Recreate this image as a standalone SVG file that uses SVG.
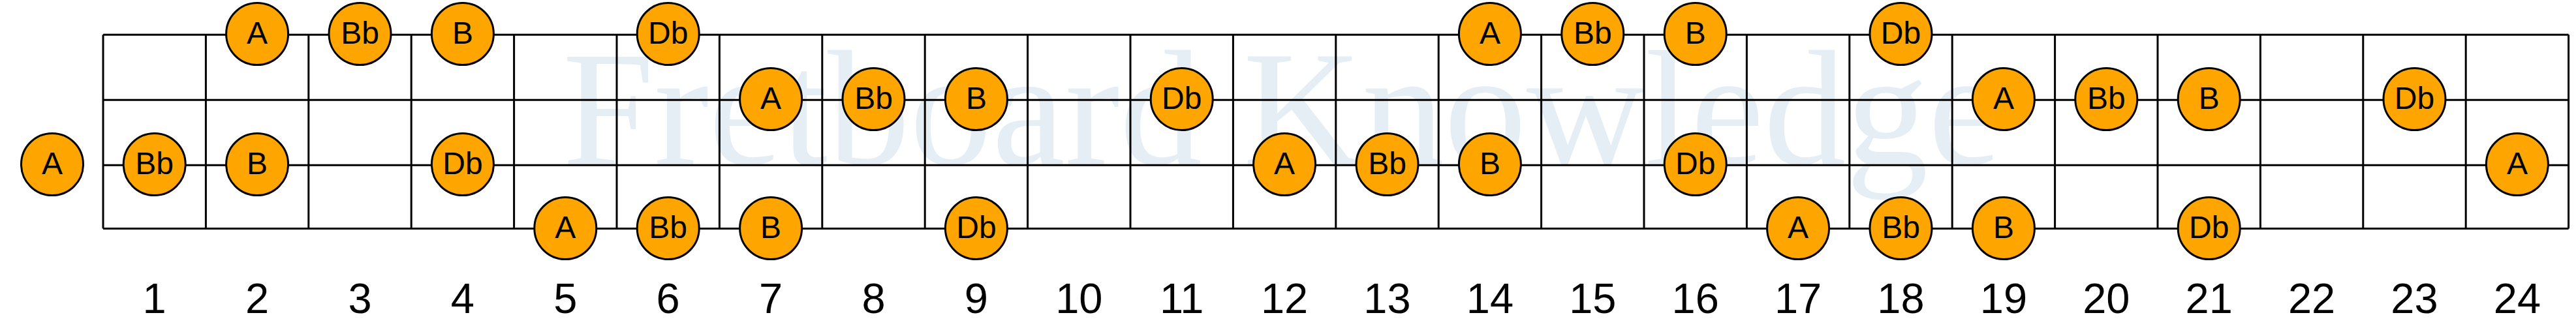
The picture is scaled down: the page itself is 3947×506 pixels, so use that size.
<svg xmlns="http://www.w3.org/2000/svg" width="3947" height="506" viewBox="0 0 3947 506">
<style>
.wm{font-family:"Liberation Serif","Times New Roman",serif;font-size:252px;fill:#e5eef5}
.grid line{stroke:#000;stroke-width:3}
.n circle{fill:#FFA500;stroke:#000;stroke-width:3}
.n text{font-family:"Liberation Sans",Arial,sans-serif;font-size:48px;fill:#000;text-anchor:middle}
.fn{font-family:"Liberation Sans",Arial,sans-serif;font-size:65px;fill:#000;text-anchor:middle}
</style>
<rect width="3947" height="506" fill="#fff"/>
<text class="wm" x="862" y="252">Fretboard Knowledge</text>
<g id="connectors" class="grid">
<line x1="158" y1="53.3" x2="3935.6" y2="53.3"/>
<line x1="158" y1="153.3" x2="3935.6" y2="153.3"/>
<line x1="158" y1="253.3" x2="3935.6" y2="253.3"/>
<line x1="158" y1="350.5" x2="3935.6" y2="350.5"/>
<line x1="158" y1="53.3" x2="158" y2="350.5"/>
<line x1="315.4" y1="53.3" x2="315.4" y2="350.5"/>
<line x1="472.8" y1="53.3" x2="472.8" y2="350.5"/>
<line x1="630.2" y1="53.3" x2="630.2" y2="350.5"/>
<line x1="787.6" y1="53.3" x2="787.6" y2="350.5"/>
<line x1="945" y1="53.3" x2="945" y2="350.5"/>
<line x1="1102.4" y1="53.3" x2="1102.4" y2="350.5"/>
<line x1="1259.8" y1="53.3" x2="1259.8" y2="350.5"/>
<line x1="1417.2" y1="53.3" x2="1417.2" y2="350.5"/>
<line x1="1574.6" y1="53.3" x2="1574.6" y2="350.5"/>
<line x1="1732" y1="53.3" x2="1732" y2="350.5"/>
<line x1="1889.4" y1="53.3" x2="1889.4" y2="350.5"/>
<line x1="2046.8" y1="53.3" x2="2046.8" y2="350.5"/>
<line x1="2204.2" y1="53.3" x2="2204.2" y2="350.5"/>
<line x1="2361.6" y1="53.3" x2="2361.6" y2="350.5"/>
<line x1="2519" y1="53.3" x2="2519" y2="350.5"/>
<line x1="2676.4" y1="53.3" x2="2676.4" y2="350.5"/>
<line x1="2833.8" y1="53.3" x2="2833.8" y2="350.5"/>
<line x1="2991.2" y1="53.3" x2="2991.2" y2="350.5"/>
<line x1="3148.6" y1="53.3" x2="3148.6" y2="350.5"/>
<line x1="3306" y1="53.3" x2="3306" y2="350.5"/>
<line x1="3463.4" y1="53.3" x2="3463.4" y2="350.5"/>
<line x1="3620.8" y1="53.3" x2="3620.8" y2="350.5"/>
<line x1="3778.2" y1="53.3" x2="3778.2" y2="350.5"/>
<line x1="3935.6" y1="53.3" x2="3935.6" y2="350.5"/>
</g>
<g id="s1f2" class="n"><circle cx="394.1" cy="52" r="47.5"/><text x="394.1" y="67">A</text></g>
<g id="s1f3" class="n"><circle cx="551.5" cy="52" r="47.5"/><text x="551.5" y="67">Bb</text></g>
<g id="s1f4" class="n"><circle cx="708.9" cy="52" r="47.5"/><text x="708.9" y="67">B</text></g>
<g id="s1f6" class="n"><circle cx="1023.7" cy="52" r="47.5"/><text x="1023.7" y="67">Db</text></g>
<g id="s1f14" class="n"><circle cx="2282.9" cy="52" r="47.5"/><text x="2282.9" y="67">A</text></g>
<g id="s1f15" class="n"><circle cx="2440.3" cy="52" r="47.5"/><text x="2440.3" y="67">Bb</text></g>
<g id="s1f16" class="n"><circle cx="2597.7" cy="52" r="47.5"/><text x="2597.7" y="67">B</text></g>
<g id="s1f18" class="n"><circle cx="2912.5" cy="52" r="47.5"/><text x="2912.5" y="67">Db</text></g>
<g id="s2f7" class="n"><circle cx="1181.1" cy="152" r="47.5"/><text x="1181.1" y="167">A</text></g>
<g id="s2f8" class="n"><circle cx="1338.5" cy="152" r="47.5"/><text x="1338.5" y="167">Bb</text></g>
<g id="s2f9" class="n"><circle cx="1495.9" cy="152" r="47.5"/><text x="1495.9" y="167">B</text></g>
<g id="s2f11" class="n"><circle cx="1810.7" cy="152" r="47.5"/><text x="1810.7" y="167">Db</text></g>
<g id="s2f19" class="n"><circle cx="3069.9" cy="152" r="47.5"/><text x="3069.9" y="167">A</text></g>
<g id="s2f20" class="n"><circle cx="3227.3" cy="152" r="47.5"/><text x="3227.3" y="167">Bb</text></g>
<g id="s2f21" class="n"><circle cx="3384.7" cy="152" r="47.5"/><text x="3384.7" y="167">B</text></g>
<g id="s2f23" class="n"><circle cx="3699.5" cy="152" r="47.5"/><text x="3699.5" y="167">Db</text></g>
<g id="s3f0" class="n"><circle cx="80" cy="252" r="47.5"/><text x="80" y="267">A</text></g>
<g id="s3f1" class="n"><circle cx="236.7" cy="252" r="47.5"/><text x="236.7" y="267">Bb</text></g>
<g id="s3f2" class="n"><circle cx="394.1" cy="252" r="47.5"/><text x="394.1" y="267">B</text></g>
<g id="s3f4" class="n"><circle cx="708.9" cy="252" r="47.5"/><text x="708.9" y="267">Db</text></g>
<g id="s3f12" class="n"><circle cx="1968.1" cy="252" r="47.5"/><text x="1968.1" y="267">A</text></g>
<g id="s3f13" class="n"><circle cx="2125.5" cy="252" r="47.5"/><text x="2125.5" y="267">Bb</text></g>
<g id="s3f14" class="n"><circle cx="2282.9" cy="252" r="47.5"/><text x="2282.9" y="267">B</text></g>
<g id="s3f16" class="n"><circle cx="2597.7" cy="252" r="47.5"/><text x="2597.7" y="267">Db</text></g>
<g id="s3f24" class="n"><circle cx="3856.9" cy="252" r="47.5"/><text x="3856.9" y="267">A</text></g>
<g id="s4f5" class="n"><circle cx="866.3" cy="350" r="47.5"/><text x="866.3" y="365">A</text></g>
<g id="s4f6" class="n"><circle cx="1023.7" cy="350" r="47.5"/><text x="1023.7" y="365">Bb</text></g>
<g id="s4f7" class="n"><circle cx="1181.1" cy="350" r="47.5"/><text x="1181.1" y="365">B</text></g>
<g id="s4f9" class="n"><circle cx="1495.9" cy="350" r="47.5"/><text x="1495.9" y="365">Db</text></g>
<g id="s4f17" class="n"><circle cx="2755.1" cy="350" r="47.5"/><text x="2755.1" y="365">A</text></g>
<g id="s4f18" class="n"><circle cx="2912.5" cy="350" r="47.5"/><text x="2912.5" y="365">Bb</text></g>
<g id="s4f19" class="n"><circle cx="3069.9" cy="350" r="47.5"/><text x="3069.9" y="365">B</text></g>
<g id="s4f21" class="n"><circle cx="3384.7" cy="350" r="47.5"/><text x="3384.7" y="365">Db</text></g>
<g id="fret-numbers">
<text class="fn" x="236.7" y="480">1</text>
<text class="fn" x="394.1" y="480">2</text>
<text class="fn" x="551.5" y="480">3</text>
<text class="fn" x="708.9" y="480">4</text>
<text class="fn" x="866.3" y="480">5</text>
<text class="fn" x="1023.7" y="480">6</text>
<text class="fn" x="1181.1" y="480">7</text>
<text class="fn" x="1338.5" y="480">8</text>
<text class="fn" x="1495.9" y="480">9</text>
<text class="fn" x="1653.3" y="480">10</text>
<text class="fn" x="1810.7" y="480">11</text>
<text class="fn" x="1968.1" y="480">12</text>
<text class="fn" x="2125.5" y="480">13</text>
<text class="fn" x="2282.9" y="480">14</text>
<text class="fn" x="2440.3" y="480">15</text>
<text class="fn" x="2597.7" y="480">16</text>
<text class="fn" x="2755.1" y="480">17</text>
<text class="fn" x="2912.5" y="480">18</text>
<text class="fn" x="3069.9" y="480">19</text>
<text class="fn" x="3227.3" y="480">20</text>
<text class="fn" x="3384.7" y="480">21</text>
<text class="fn" x="3542.1" y="480">22</text>
<text class="fn" x="3699.5" y="480">23</text>
<text class="fn" x="3856.9" y="480">24</text>
</g>
</svg>
